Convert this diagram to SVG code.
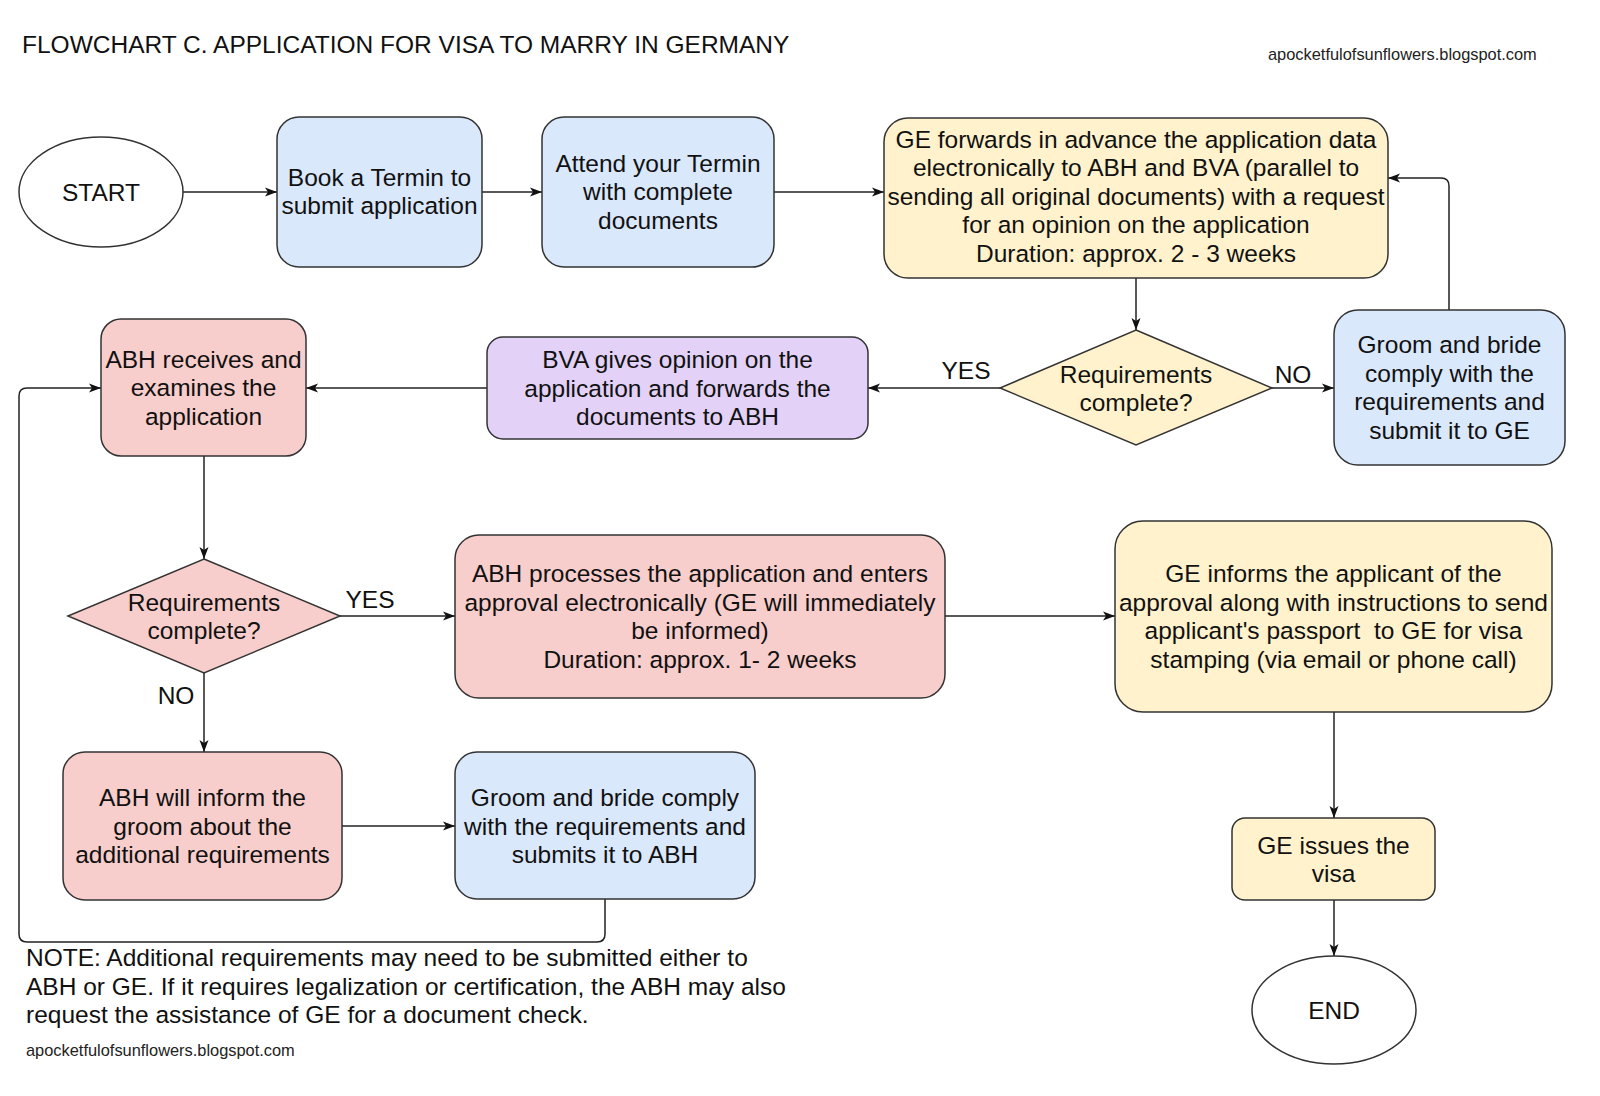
<svg xmlns="http://www.w3.org/2000/svg" width="1600" height="1096" viewBox="0 0 1600 1096">
<defs>
<marker id="arr" markerWidth="13" markerHeight="11" refX="12" refY="5" orient="auto" markerUnits="userSpaceOnUse"><path d="M0,0.5 L12,5 L0,9.5 L3,5 Z" fill="#111"/></marker>
</defs>
<style>
text{font-family:"Liberation Sans",Arial,sans-serif;font-size:24.5px;fill:#111}
.c{text-anchor:middle}
.box{stroke:#333;stroke-width:1.5}
.blue{fill:#dae8fc}
.yellow{fill:#fff2cc}
.pink{fill:#f8cecc}
.purple{fill:#e3d1f8}
.white{fill:#fff}
.edge{fill:none;stroke:#222;stroke-width:1.5;marker-end:url(#arr)}
.small{font-size:16.4px;fill:#222}
</style>
<rect width="1600" height="1096" fill="#fff"/>
<text x="22" y="53">FLOWCHART C. APPLICATION FOR VISA TO MARRY IN GERMANY</text>
<text x="1268" y="60" class="small">apocketfulofsunflowers.blogspot.com</text>

<g id="connectors">
<path class="edge" d="M183,192 H277"/>
<path class="edge" d="M482,192 H542"/>
<path class="edge" d="M774,192 H884"/>
<path class="edge" d="M1136,278 V330"/>
<path class="edge" d="M1000,388 H868"/>
<path class="edge" d="M1272,388 H1334"/>
<path class="edge" d="M1449,310 V186 Q1449,178 1441,178 H1388"/>
<path class="edge" d="M487,388 H306"/>
<path class="edge" d="M204,456 V559"/>
<path class="edge" d="M340,616 H455"/>
<path class="edge" d="M945,616 H1115"/>
<path class="edge" d="M204,673 V752"/>
<path class="edge" d="M342,826 H455"/>
<path class="edge" d="M605,899 V934 Q605,942 597,942 H27 Q19,942 19,934 V396 Q19,388 27,388 H101"/>
<path class="edge" d="M1334,712 V818"/>
<path class="edge" d="M1334,900 V956"/>
<text x="966" y="379" class="c">YES</text>
<text x="1293" y="383" class="c">NO</text>
<text x="370" y="608" class="c">YES</text>
<text x="176" y="704" class="c">NO</text>
</g>

<g id="start">
<ellipse cx="101" cy="192" rx="82" ry="55" class="box white"/>
<text x="101" y="200.5" class="c">START</text>
</g>

<g id="book">
<rect x="277" y="117" width="205" height="150" rx="22" class="box blue"/>
<text x="379.5" y="185.5" class="c">Book a Termin to</text>
<text x="379.5" y="214" class="c">submit application</text>
</g>

<g id="attend">
<rect x="542" y="117" width="232" height="150" rx="22" class="box blue"/>
<text x="658" y="171.5" class="c">Attend your Termin</text>
<text x="658" y="200" class="c">with complete</text>
<text x="658" y="228.5" class="c">documents</text>
</g>

<g id="ge-forwards">
<rect x="884" y="118" width="504" height="160" rx="24" class="box yellow"/>
<text x="1136" y="147.5" class="c">GE forwards in advance the application data</text>
<text x="1136" y="176" class="c">electronically to ABH and BVA (parallel to</text>
<text x="1136" y="204.5" class="c">sending all original documents) with a request</text>
<text x="1136" y="233" class="c">for an opinion on the application</text>
<text x="1136" y="261.5" class="c">Duration: approx. 2 - 3 weeks</text>
</g>

<g id="decision1">
<polygon points="1136,330 1272,388 1136,445 1000,388" class="box yellow"/>
<text x="1136" y="382.5" class="c">Requirements</text>
<text x="1136" y="411" class="c">complete?</text>
</g>

<g id="groom-ge">
<rect x="1334" y="310" width="231" height="155" rx="24" class="box blue"/>
<text x="1449.5" y="353" class="c">Groom and bride</text>
<text x="1449.5" y="381.5" class="c">comply with the</text>
<text x="1449.5" y="410" class="c">requirements and</text>
<text x="1449.5" y="438.5" class="c">submit it to GE</text>
</g>

<g id="bva">
<rect x="487" y="337" width="381" height="102" rx="16" class="box purple"/>
<text x="677.5" y="368" class="c">BVA gives opinion on the</text>
<text x="677.5" y="396.5" class="c">application and forwards the</text>
<text x="677.5" y="425" class="c">documents to ABH</text>
</g>

<g id="abh-receives">
<rect x="101" y="319" width="205" height="137" rx="20" class="box pink"/>
<text x="203.5" y="367.5" class="c">ABH receives and</text>
<text x="203.5" y="396" class="c">examines the</text>
<text x="203.5" y="424.5" class="c">application</text>
</g>

<g id="decision2">
<polygon points="204,559 340,616 204,673 68,616" class="box pink"/>
<text x="204" y="610.5" class="c">Requirements</text>
<text x="204" y="639" class="c">complete?</text>
</g>

<g id="abh-processes">
<rect x="455" y="535" width="490" height="163" rx="24" class="box pink"/>
<text x="700" y="582" class="c">ABH processes the application and enters</text>
<text x="700" y="610.5" class="c">approval electronically (GE will immediately</text>
<text x="700" y="639" class="c">be informed)</text>
<text x="700" y="667.5" class="c">Duration: approx. 1- 2 weeks</text>
</g>

<g id="ge-informs">
<rect x="1115" y="521" width="437" height="191" rx="28" class="box yellow"/>
<text x="1333.5" y="582" class="c">GE informs the applicant of the</text>
<text x="1333.5" y="610.5" class="c">approval along with instructions to send</text>
<text x="1333.5" y="639" class="c" xml:space="preserve">applicant's passport  to GE for visa</text>
<text x="1333.5" y="667.5" class="c">stamping (via email or phone call)</text>
</g>

<g id="abh-inform">
<rect x="63" y="752" width="279" height="148" rx="22" class="box pink"/>
<text x="202.5" y="806" class="c">ABH will inform the</text>
<text x="202.5" y="834.5" class="c">groom about the</text>
<text x="202.5" y="863" class="c">additional requirements</text>
</g>

<g id="groom-abh">
<rect x="455" y="752" width="300" height="147" rx="22" class="box blue"/>
<text x="605" y="806" class="c">Groom and bride comply</text>
<text x="605" y="834.5" class="c">with the requirements and</text>
<text x="605" y="863" class="c">submits it to ABH</text>
</g>

<g id="ge-issues">
<rect x="1232" y="818" width="203" height="82" rx="13" class="box yellow"/>
<text x="1333.5" y="853.5" class="c">GE issues the</text>
<text x="1333.5" y="882" class="c">visa</text>
</g>

<g id="end">
<ellipse cx="1334" cy="1010" rx="82" ry="54" class="box white"/>
<text x="1334" y="1018.5" class="c">END</text>
</g>

<g id="note">
<text x="26" y="966">NOTE: Additional requirements may need to be submitted either to</text>
<text x="26" y="994.5">ABH or GE. If it requires legalization or certification, the ABH may also</text>
<text x="26" y="1023">request the assistance of GE for a document check.</text>
<text x="26" y="1056" class="small">apocketfulofsunflowers.blogspot.com</text>
</g>
</svg>
